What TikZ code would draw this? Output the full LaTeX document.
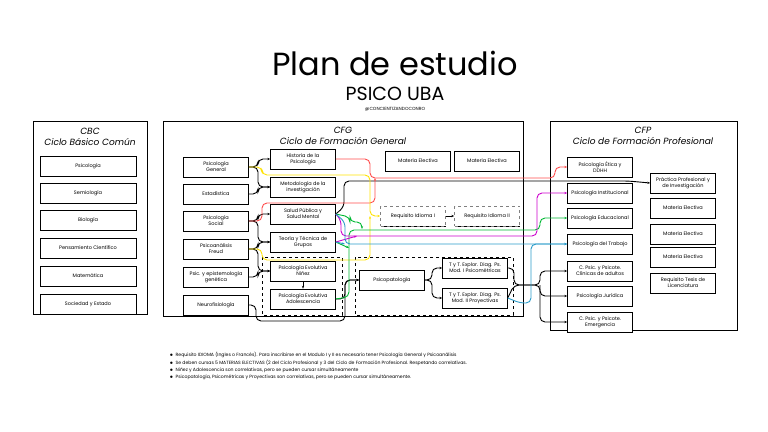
\documentclass[tikz,border=0pt]{standalone}
\usepackage{fontspec}
\setmainfont{Poppins}
\usetikzlibrary{shadows,arrows.meta}
\begin{document}
\begin{tikzpicture}[x=1pt,y=-1pt,
 box/.style={draw,fill=white,line width=0.5pt,minimum width=65pt,minimum height=20pt,align=center,font=\fontsize{5}{6}\selectfont,inner sep=1pt,
   drop shadow={shadow xshift=0.8pt,shadow yshift=-0.8pt,fill=black,opacity=1}},
 wbox/.style={box,minimum width=96pt},
 req/.style={box,dashed,draw=gray},
 frame/.style={draw,line width=0.7pt},
 ttl/.style={font=\fontsize{9}{10.5}\selectfont\itshape,align=center},
 con/.style={line width=0.9pt,rounded corners=5pt,-{Stealth[length=3pt]}},
 dbox/.style={draw,dashed,line width=0.6pt}]
\useasboundingbox (0,0) rectangle (768,431);
\node[font=\fontsize{32}{34}\selectfont] (t1) at (395,63) {Plan de estudio};
\node[font=\fontsize{19}{21}\selectfont] (t2) at (395,94) {PSICO UBA};
\node[font=\fontsize{4.5}{5}\selectfont] (t3) at (395,109) {@CONCIENTIZANDOCONRO};
% frames
\draw[frame] (33,121) rectangle (147,314);
\node[ttl] (cbc) at (90,137) {CBC\\Ciclo Básico Común};
\draw[frame] (163,121) rectangle (523,316);
\node[ttl] (cfg) at (343,136) {CFG\\Ciclo de Formación General};
\draw[frame] (550,121) rectangle (737,330);
\node[ttl] (cfp) at (643,136) {CFP\\Ciclo de Formación Profesional};
% CBC
\node[wbox] (b1) at (88,166) {Psicología};
\node[wbox] (b2) at (88,193) {Semiología};
\node[wbox] (b3) at (88,220) {Biología};
\node[wbox] (b4) at (88,248) {Pensamiento Científico};
\node[wbox] (b5) at (88,276) {Matemática};
\node[wbox] (b6) at (88,304) {Sociedad y Estado};
% dashed groups
\draw[dbox] (262,257) rectangle (342,315);
\draw[dbox] (355,257) rectangle (513,315);
% CFG left
\node[box] (pg) at (216,167) {Psicología\\General};
\node[box] (es) at (216,194) {Estadística};
\node[box] (ps) at (216,221) {Psicología\\Social};
\node[box] (pf) at (216,249) {Psicoanálisis\\Freud};
\node[box] (pe) at (216,277) {Psic. y epistemología\\genética};
\node[box] (nf) at (216,305) {Neurofisiología};
\node[box] (hi) at (303,159) {Historia de la\\Psicología};
\node[box] (me) at (303,187) {Metodología de la\\investigación};
\node[box] (sp) at (303,214) {Salud Pública y\\Salud Mental};
\node[box] (tg) at (303,242) {Teoría y Técnica de\\Grupos};
\node[box] (en) at (303,271) {Psicología Evolutiva\\Niñez};
\node[box] (ea) at (303,299) {Psicología Evolutiva\\Adolescencia};
\node[box] (m1) at (418,161) {Materia Electiva};
\node[box] (m2) at (487,161) {Materia Electiva};
\node[req] (i1) at (413,216) {Requisito Idioma I};
\node[req] (i2) at (487,216) {Requisito Idioma II};
\node[box] (pp) at (392,280) {Psicopatología};
\node[box] (t1m) at (475,268) {T y T. Explor. Diag. Ps.\\Mod. I Psicométricas};
\node[box] (t2m) at (475,298) {T y T. Explor. Diag. Ps.\\Mod. II Proyectivas};
% CFP
\node[box] (c1) at (600,167) {Psicología Ética y\\DDHH};
\node[box] (c2) at (600,193) {Psicología Institucional};
\node[box] (c3) at (600,218) {Psicología Educacional};
\node[box] (c4) at (600,244) {Psicología del Trabajo};
\node[box] (c5) at (600,271) {C. Psic. y Psicote.\\Clínicas de adultos};
\node[box] (c6) at (600,296) {Psicología Jurídica};
\node[box] (c7) at (600,322) {C. Psic. y Psicote.\\Emergencia};
\node[box] (d1) at (683,183) {Práctica Profesional y\\de Investigación};
\node[box] (d2) at (683,208) {Materia Electiva};
\node[box] (d3) at (683,234) {Materia Electiva};
\node[box] (d4) at (683,257) {Materia Electiva};
\node[box] (d5) at (683,283) {Requisito Tesis de\\Licenciatura};
% connectors black
\draw[con] (pg.east) -- (258,167) |- (hi.west);
\draw[con] (pg.east) -- (258,167) |- (me.west);
\draw[con] (es.east) -- (258,194) |- (me.west);
\draw[con] (ps.east) -- (258,221) |- (sp.west);
\draw[con] (ps.east) -- (258,221) |- (tg.west);
\draw[con] (pf.east) -- (258,249) |- (tg.west);
\draw[con] (pf.east) -- (258,249) |- (en.west);
\draw[con] (pe.east) -- (258,277) |- (en.west);
\draw[con] (en.south) -- (ea.north);
\draw[con] (nf.east) -- (256,305) |- (345,321) |- (pp.west);
\draw[con] (ea.east) -- (345,299) |- (pp.west);
\draw[con] (pp.east) -- (432,280) |- (t1m.west);
\draw[con] (pp.east) -- (432,280) |- (t2m.west);
\draw[con] (i1.east) -- (i2.west);
\draw[con] (sp.east) -- (344,207) |- (430,181) -- (628,181) -- (d1.west);
\draw[con] (t1m.east) -- (514,268) |- (540,285) |- (c5.west);
\draw[con] (t2m.east) -- (514,285) -- (540,285) |- (c6.west);
\draw[con] (540,285) |- (c7.west);
% red
\draw[con,red!70] (hi.east) -- (370,159) |- (555,178) |- (c1.west);
\draw[con,red!70] (ps.east) -- (262,221) |- (375,203) -- (375,178);
% yellow
\draw[con,yellow!85!orange] (pg.east) -- (262,167) |- (370,175) |- (i1.west);
\draw[con,yellow!85!orange] (pf.east) -- (262,249) |- (370,260) -- (370,216);
% green
\draw[con,green!65!black!80!cyan] (sp.east) -- (350,217) |- (362,222) -- (362,229);
\draw[con,green!65!black!80!cyan] (tg.east) -- (349,248);
\draw[con,green!65!black!80!cyan] (ea.east) -- (349,297) |- (540,230) |- (c3.west);
% magenta
\draw[con,violet!40!magenta] (sp.east) -- (341,220) |- (537,236) |- (c2.west);
\draw[con,violet!40!magenta] (tg.east) -- (357,236);
% cyan
\draw[con,cyan!80!black] (sp.east) -- (345,222) |- (c4.west);
\draw[con,cyan!80!black] (tg.east) -- (345,244);
\draw[con,cyan!80!black] (t2m.east) -- (520,303) -- (531,303) |- (c4.west);
% notes
\node[anchor=north west,align=left,font=\fontsize{4.6}{7.2}\selectfont] (notes) at (166,349) {%
$\bullet$\ \ Requisito IDIOMA (Ingles o Francés). Para inscribirse en el Modulo I y II es necesario tener Psicología General y Psicoanálisis\\
$\bullet$\ \ Se deben cursas 5 MATERIAS ELECTIVAS (2 del Ciclo Profesional y 3 del Ciclo de Formación Profesional. Respetando correlativas.\\
$\bullet$\ \ Niñez y Adolescencia son correlativas, pero se pueden cursar simultáneamente\\
$\bullet$\ \ Psicopatología, Psicométricas y Proyectivas son correlativas, pero se pueden cursar simultáneamente.};
\end{tikzpicture}
\end{document}
